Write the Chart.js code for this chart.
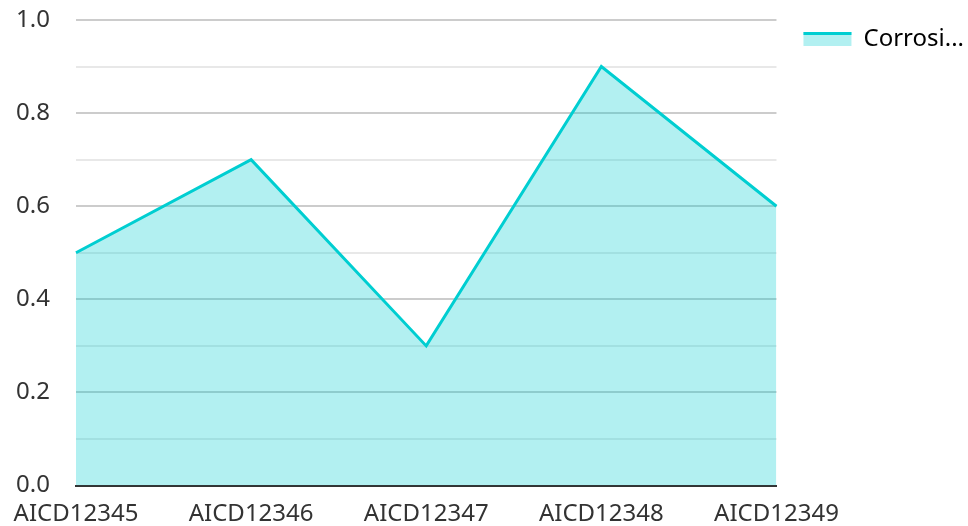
<html>
<head>
<style>
  html, body { margin: 0; padding: 0; background: #fff; }
  #wrap { width: 968px; height: 526px; }
</style>
</head>
<body>
<div id="wrap"><canvas id="chart"></canvas></div>
<script src="https://cdn.jsdelivr.net/npm/chart.js"></script>
<script>
var labels = ['AICD12345', 'AICD12346', 'AICD12347', 'AICD12348', 'AICD12349'];
var corrosion = [0.5, 0.7, 0.3, 0.9, 0.6];
var seriesName = 'Corrosion Rate';
var legendText = 'Corrosi...';

var lineColor = 'rgb(0, 206, 209)';
var fillColor = 'rgba(0, 206, 209, 0.3)';
var textFont = { family: '"Noto Sans", "Open Sans", sans-serif', size: 24 };

// draws the thick line across the top of the legend box
var legendLine = {
  id: 'legendLine',
  afterDraw: function(chart) {
    var boxes = chart.legend.legendHitBoxes;
    if (!boxes || !boxes.length) return;
    var ctx = chart.ctx, b = boxes[0];
    var bw = chart.legend.options.labels.boxWidth;
    var bh = chart.legend.options.labels.boxHeight;
    var top = b.top + (b.height - bh) / 2;
    ctx.save();
    ctx.fillStyle = lineColor;
    ctx.fillRect(b.left, top, bw, 3);
    ctx.restore();
  }
};

var ctx = document.getElementById('chart').getContext('2d');
var chart = new Chart(ctx, {
  type: 'line',
  data: {
    labels: labels,
    datasets: [{
      label: seriesName,
      data: corrosion,
      borderColor: lineColor,
      backgroundColor: fillColor,
      borderWidth: 3,
      borderJoinStyle: 'miter',
      fill: 'origin',
      pointRadius: 0,
      tension: 0
    }]
  },
  options: {
    responsive: true,
    maintainAspectRatio: false,
    animation: false,
    layout: { padding: { top: 0, right: -6, left: 16, bottom: 0 } },
    plugins: {
      tooltip: { enabled: false },
      legend: {
        position: 'right',
        align: 'start',
        labels: {
          boxWidth: 48,
          boxHeight: 14,
          padding: 27,
          color: '#222',
          font: textFont,
          generateLabels: function(chart) {
            return [{
              text: legendText,
              fillStyle: fillColor,
              strokeStyle: 'rgba(0,0,0,0)',
              lineWidth: 0,
              datasetIndex: 0
            }];
          }
        }
      }
    },
    scales: {
      x: {
        offset: false,
        grid: { display: false },
        border: { display: true, color: '#333', width: 2 },
        ticks: { padding: 6, maxRotation: 0, autoSkip: false, color: '#333', font: textFont },
        afterFit: function(scale) {
          scale.height = 39;
        }
      },
      y: {
        min: 0,
        max: 1,
        border: { display: false },
        grid: {
          drawTicks: false,
          lineWidth: 2,
          color: function(c) {
            var v = Math.round(c.tick.value * 10);
            return v % 2 === 0 ? '#cccccc' : '#e8e8e8';
          }
        },
        ticks: {
          stepSize: 0.1,
          padding: 26,
          color: '#333',
          font: textFont,
          callback: function(v) {
            var n = Math.round(v * 10);
            return n % 2 === 0 ? (n / 10).toFixed(1) : '';
          }
        },
        afterFit: function(scale) {
          scale.paddingTop = 20;
          scale.width = 60;
        }
      }
    }
  },
  plugins: [legendLine]
});
</script>
</body>
</html>
